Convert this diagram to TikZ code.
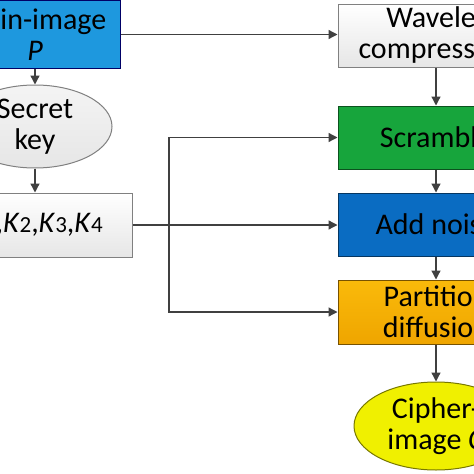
\documentclass[tikz,border=0pt]{standalone}
\usepackage{fontspec}
\setmainfont{Carlito}
\usetikzlibrary{arrows.meta,shapes.geometric}
\definecolor{lineg}{HTML}{404040}
\definecolor{plainblue}{HTML}{1E98DE}
\definecolor{noiseblue}{HTML}{0A6CC2}
\definecolor{scrgreen}{HTML}{17A53C}
\definecolor{partor}{HTML}{FABA0A}
\definecolor{partorb}{HTML}{EFA500}
\definecolor{ciphy}{HTML}{F0F000}
\definecolor{lgray}{HTML}{F4F4F4}
\definecolor{lgrayb}{HTML}{E6E6E6}
\tikzset{
  txt/.style={font=\fontsize{30}{31}\selectfont, align=center, text=black, inner sep=0pt},
  boxnode/.style={txt, rectangle, draw=#1, line width=1pt},
  ellnode/.style={txt, ellipse, draw=#1, line width=1pt},
  arr/.style={draw=lineg, line width=1.3pt, -{Triangle[length=9pt,width=9pt]}},
}
\newcommand{\kk}[1]{\textit{K}{\fontsize{23}{23}\selectfont #1}}
\begin{document}
\begin{tikzpicture}[x=1pt,y=-1pt]
\useasboundingbox (0,0) rectangle (474,474);
\fill[white] (0,0) rectangle (474,474);
\clip (0,0) rectangle (474,474);
% left column
\node[boxnode={black!60!blue}, fill=plainblue, minimum width=170pt, minimum height=68pt] (plain) at (35,34.5) {Plain-image\\\textit{P}};
\node[ellnode={gray}, top color=lgray, bottom color=lgrayb, minimum width=154pt, minimum height=83pt] (secret) at (35,126.5) {Secret\\key};
\node[boxnode={gray}, top color=white, bottom color=lgrayb, minimum width=194pt, minimum height=64pt] (key) at (35,225) {\kk{1},\kk{2},\kk{3},\kk{4}};
% right column
\node[boxnode={gray}, top color=white, bottom color=lgrayb, minimum width=196pt, minimum height=63pt] (wave) at (436,35.5) {Wavelet\\compression};
\node[boxnode={black!50!scrgreen}, fill=scrgreen, minimum width=196pt, minimum height=63pt] (scr) at (436,137.5) {Scramble};
\node[boxnode={black!50!noiseblue}, fill=noiseblue, minimum width=196pt, minimum height=63pt] (noise) at (436,224.5) {Add noise};
\node[boxnode={black!50!partorb}, top color=partor, bottom color=partorb, minimum width=196pt, minimum height=64pt] (part) at (436,312) {Partition\\diffusion};
\node[ellnode={black!50!ciphy}, fill=ciphy, minimum width=164pt, minimum height=88pt] (ciph) at (436,426) {Cipher-\\image \textit{C}};
% connectors
\draw[arr] (plain.east) -- (plain.east -| wave.west);
\draw[arr] (plain.south) -- (secret.north);
\draw[arr] (secret.south) -- (key.north);
\draw[arr] (wave.south) -- (scr.north);
\draw[arr] (scr.south) -- (noise.north);
\draw[arr] (noise.south) -- (part.north);
\draw[arr] (part.south) -- (ciph.north);
\coordinate (j) at (169,225);
\draw[arr] (key.east) -- (key.east -| noise.west);
\draw[arr] (j) |- (scr.west);
\draw[arr] (j) |- (part.west);
\end{tikzpicture}
\end{document}
